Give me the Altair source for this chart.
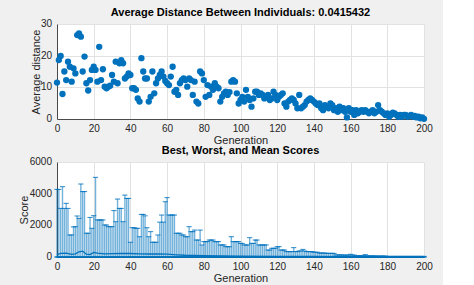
import altair as alt
import pandas as pd

# ---------------- data ----------------
generations = list(range(0, 201))

avg_distance = [
    11.5, 18.6, 19.9, 7.9, 15.0, 12.3, 18.1, 16.5, 11.8, 16.0,
    14.4, 26.5, 27.0, 26.0, 15.0, 19.7, 11.3, 9.0, 12.3, 15.5,
    16.5, 15.5, 11.8, 22.8, 12.3, 15.7, 10.2, 9.7, 10.2, 10.5,
    13.9, 11.8, 18.1, 11.3, 17.6, 18.6, 17.6, 12.8, 13.4, 14.4,
    13.9, 9.7, 9.7, 9.2, 6.5, 5.5, 19.2, 15.0, 12.8, 12.8,
    5.5, 7.0, 15.0, 8.1, 11.3, 12.8, 13.9, 15.0, 13.4, 12.0,
    11.3, 10.7, 13.4, 16.5, 8.6, 9.2, 7.6, 11.3, 12.3, 12.8,
    12.3, 10.2, 12.8, 12.3, 7.6, 11.8, 5.5, 4.9, 15.0, 14.4,
    12.3, 7.0, 10.7, 7.6, 10.2, 9.2, 11.3, 10.2, 9.7, 5.5,
    7.0, 8.1, 8.6, 7.6, 8.5, 11.8, 12.3, 11.8, 8.1, 4.9,
    6.0, 7.0, 5.5, 9.2, 7.0, 6.0, 3.9, 6.5, 8.6, 8.6,
    7.6, 8.1, 7.6, 6.5, 7.0, 7.6, 6.0, 6.5, 8.6, 7.6,
    6.0, 7.0, 7.6, 8.1, 4.9, 3.9, 5.5, 6.0, 6.5, 6.0,
    4.9, 3.4, 7.6, 3.4, 3.9, 4.4, 5.5, 6.0, 6.5, 6.0,
    5.5, 4.9, 4.4, 4.9, 3.4, 2.8, 4.4, 3.9, 3.4, 4.9,
    4.4, 2.8, 3.4, 2.3, 3.9, 2.8, 3.4, 2.3, 0.5, 3.4,
    2.3, 2.8, 1.3, 2.8, 1.8, 2.3, 2.8, 2.3, 2.8, 2.3,
    1.8, 2.3, 2.8, 1.8, 2.3, 4.4, 2.8, 2.3, 1.8, 1.3,
    1.8, 0.7, 1.3, 2.0, 1.8, 1.3, 0.7, 1.3, 0.7, 1.3,
    1.3, 0.7, 1.0, 1.3, 0.7, 1.0, 0.5, 0.7, 0.2, 0.5, 0.04,
]

worst_score = [
    4270, 4270, 3070, 4440, 3070, 3390, 3070, 1390, 1390, 1900,
    1915, 2590, 2440, 4610, 4130, 4130, 1500, 1500, 2500, 1810,
    2610, 5030, 2340, 2340, 2340, 2340, 2020, 2020, 1915, 1915,
    1915, 2930, 2230, 3660, 3070, 3070, 2230, 3910, 3700, 3700,
    930, 1850, 1850, 1810, 1810, 1280, 2690, 2690, 2600, 1850,
    1280, 1600, 930, 930, 930, 1390, 2200, 2650, 2200, 3490,
    3750, 2650, 2650, 2650, 2650, 1500, 1500, 1500, 1390, 1390,
    1280, 1280, 1915, 1600, 1600, 1700, 1070, 1070, 1700, 760,
    970, 970, 970, 1070, 1070, 1070, 970, 970, 970, 760,
    760, 760, 650, 650, 650, 1280, 970, 970, 970, 970,
    860, 860, 760, 760, 760, 1220, 860, 860, 1070, 1070,
    760, 760, 760, 760, 760, 440, 440, 550, 550, 550,
    650, 650, 440, 440, 440, 340, 340, 340, 340, 590,
    340, 340, 380, 380, 480, 380, 340, 340, 340, 340,
    300, 300, 300, 250, 250, 250, 250, 230, 230, 230,
    230, 230, 130, 130, 130, 130, 120, 120, 120, 120,
    170, 120, 120, 80, 80, 80, 80, 80, 150, 80,
    70, 70, 70, 70, 60, 60, 60, 60, 60, 60,
    40, 40, 40, 40, 40, 40, 40, 40, 40, 40,
    40, 40, 40, 40, 40, 40, 40, 40, 40, 40, 40,
]

mean_gen = [0, 2, 5, 8, 10, 12, 14, 16, 18, 20, 22, 26, 30, 35, 40, 45, 50,
            55, 60, 65, 70, 80, 90, 100, 120, 140, 160, 180, 200]
mean_score = [150, 230, 240, 170, 200, 330, 370, 180, 150, 290, 250, 200, 210,
              230, 220, 200, 190, 200, 180, 140, 110, 80, 70, 60, 45, 35, 25, 20, 15]

dist_title = "Average Distance Between Individuals: 0.0415432"
score_title = "Best, Worst, and Mean Scores"
x_ticks = [0, 20, 40, 60, 80, 100, 120, 140, 160, 180, 200]
dist_ticks = [0, 10, 20, 30]
score_ticks = [0, 2000, 4000, 6000]

# ---------------- style ----------------
FONT = "Liberation Sans"
BLUE = "#0072BD"
TXT = "#262626"
W, H = 367, 95

df_dist = pd.DataFrame({"gen": generations, "dist": avg_distance})
df_score = pd.DataFrame({"gen": generations, "worst": worst_score})
df_mean = pd.DataFrame({"gen": mean_gen, "mean": mean_score})
df_dticks = pd.DataFrame({"v": dist_ticks, "label": [str(v) for v in dist_ticks]})
df_sticks = pd.DataFrame({"v": score_ticks, "label": [str(v) for v in score_ticks]})

xscale = alt.Scale(domain=[0, 200], nice=False, zero=False)
yscale1 = alt.Scale(domain=[0, 30], nice=False)
yscale2 = alt.Scale(domain=[0, 6000], nice=False)


def xaxis():
    return alt.Axis(values=x_ticks, title="Generation",
                    labelPadding=4, titlePadding=1, labelFlush=False)


def yaxis1():
    return alt.Axis(values=dist_ticks, title="Average distance", labels=False,
                    titlePadding=16)


def yaxis2():
    return alt.Axis(values=score_ticks, title="Score", labels=False,
                    titlePadding=28)


def ylabels(df, scale, axis):
    return alt.Chart(df).mark_text(
        align="right", baseline="middle", font=FONT, fontSize=10, color=TXT
    ).encode(
        x=alt.value(-5),
        y=alt.Y("v:Q", scale=scale, axis=axis),
        text="label:N",
    )


points = alt.Chart(df_dist).mark_circle(size=40, color=BLUE, opacity=1).encode(
    x=alt.X("gen:Q", scale=xscale, axis=xaxis()),
    y=alt.Y("dist:Q", scale=yscale1, axis=yaxis1()),
)

top = alt.layer(points, ylabels(df_dticks, yscale1, yaxis1())).properties(
    width=W, height=H,
    title=alt.TitleParams(dist_title, font=FONT, fontSize=11, fontWeight="bold",
                          color="#000000", offset=1, anchor="middle"),
)

base = alt.Chart(df_score).transform_calculate(
    x_lo="datum.gen - 1.4", x_hi="datum.gen + 1.4"
)

bars = base.mark_rule(color=BLUE, strokeWidth=1.4, opacity=0.55).encode(
    x=alt.X("gen:Q", scale=xscale, axis=xaxis()),
    y=alt.Y("worst:Q", scale=yscale2, axis=yaxis2()),
    y2=alt.datum(0),
)
caps_top = base.mark_rule(color=BLUE, strokeWidth=1, opacity=0.85).encode(
    x=alt.X("x_lo:Q", scale=xscale, axis=xaxis()),
    x2="x_hi:Q",
    y=alt.Y("worst:Q", scale=yscale2, axis=yaxis2()),
)
caps_bot = base.mark_rule(color=BLUE, strokeWidth=1.5, opacity=0.9).encode(
    x=alt.X("x_lo:Q", scale=xscale, axis=xaxis()),
    x2="x_hi:Q",
    y=alt.datum(0),
)
mean_line = alt.Chart(df_mean).mark_line(color=BLUE, strokeWidth=1.3).encode(
    x=alt.X("gen:Q", scale=xscale, axis=xaxis()),
    y=alt.Y("mean:Q", scale=yscale2, axis=yaxis2()),
)

bottom = alt.layer(bars, caps_top, caps_bot, mean_line,
                   ylabels(df_sticks, yscale2, yaxis2())).properties(
    width=W, height=H,
    title=alt.TitleParams(score_title, font=FONT, fontSize=11, fontWeight="bold",
                          color="#000000", offset=1, anchor="middle"),
)

chart = alt.vconcat(top, bottom, spacing=0).properties(
    background="#f0f0f0",
    padding={"left": 18, "top": 7, "right": 10, "bottom": 5},
).configure_view(
    fill="white", stroke=None,
).configure_axis(
    grid=True, gridColor="#e2e2e2", gridWidth=1,
    domainColor="#4a4a4a", domainWidth=1, ticks=False,
    labelOverlap=False,
    labelFont=FONT, labelFontSize=10, labelColor=TXT,
    titleFont=FONT, titleFontSize=11, titleFontWeight="normal", titleColor=TXT,
)

chart.save("out.html", embed_options={"renderer": "svg", "actions": False})
